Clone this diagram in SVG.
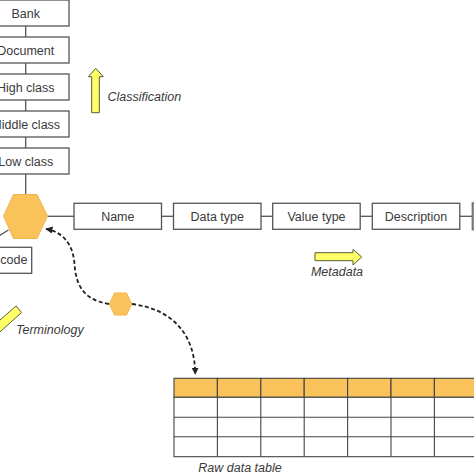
<svg xmlns="http://www.w3.org/2000/svg" width="474" height="474" viewBox="0 0 474 474">
<defs>
<style>
.box{fill:#fff;stroke:#555;stroke-width:1.3}
.t{font-family:"Liberation Sans",Arial,sans-serif;font-size:12.5px;fill:#3a3a3a;text-anchor:middle}
.it{font-family:"Liberation Sans",Arial,sans-serif;font-size:12.5px;fill:#3a3a3a;font-style:italic}
.ln{stroke:#555;stroke-width:1.3;fill:none}
.dash{stroke:#222;stroke-width:1.8;fill:none;stroke-dasharray:4,2.5}
.hex{fill:#F9C25A;stroke:#EFB54A;stroke-width:1}
.yarr{fill:#FFFF66;stroke:#5a5a3a;stroke-width:1}
.cell{fill:#fff;stroke:#444;stroke-width:1.1}
.hcell{fill:#F9C25A;stroke:#444;stroke-width:1.1}
</style>
<marker id="ah" viewBox="0 0 10 10" refX="9" refY="5" markerWidth="4" markerHeight="4" orient="auto">
<path d="M0,0 L10,5 L0,10 Z" fill="#222"/>
</marker>
</defs>
<rect width="474" height="474" fill="#fff"/>

<g id="connectors">
<line class="ln" x1="25.7" y1="26" x2="25.7" y2="37"/>
<line class="ln" x1="25.7" y1="63" x2="25.7" y2="74"/>
<line class="ln" x1="25.7" y1="100" x2="25.7" y2="111"/>
<line class="ln" x1="25.7" y1="137" x2="25.7" y2="148"/>
<line class="ln" x1="25.7" y1="174" x2="25.7" y2="195"/>
<line class="ln" x1="47.5" y1="216.3" x2="74" y2="216.3"/>
<line class="ln" x1="161.5" y1="216.3" x2="173.5" y2="216.3"/>
<line class="ln" x1="261" y1="216.3" x2="272.7" y2="216.3"/>
<line class="ln" x1="360.3" y1="216.3" x2="372.3" y2="216.3"/>
<line class="ln" x1="459.5" y1="216.3" x2="472.7" y2="216.3"/>
<line class="ln" x1="8.5" y1="230" x2="-2" y2="236.5"/>
<path class="dash" d="M109,304 C84,300 76,286 74.5,264 C73,243 62,232 46,228.8" marker-end="url(#ah)"/>
<path class="dash" d="M132,304 C172,309 195,334 195.2,374" marker-end="url(#ah)"/>
</g>

<g id="bank"><rect class="box" x="-18" y="0" width="87" height="26"/><text class="t" x="25.7" y="17.5">Bank</text></g>
<g id="document"><rect class="box" x="-18" y="37" width="87" height="26"/><text class="t" x="25.7" y="54.5">Document</text></g>
<g id="high-class"><rect class="box" x="-18" y="74" width="87" height="26"/><text class="t" x="25.7" y="91.5">High class</text></g>
<g id="middle-class"><rect class="box" x="-18" y="111" width="87" height="26"/><text class="t" x="25.7" y="128.5">Middle class</text></g>
<g id="low-class"><rect class="box" x="-18" y="148" width="87" height="26"/><text class="t" x="25.7" y="165.5">Low class</text></g>

<g id="hexagon-main"><polygon class="hex" points="3.5,216 13.5,194.5 37,194.5 47.5,216 37,238.5 13.5,238.5"/></g>
<g id="hexagon-small"><polygon class="hex" points="109.3,304 114.5,293 126.5,293 131.7,304 126.5,315 114.5,315"/></g>

<g id="code"><rect class="box" x="-56" y="247.3" width="87.7" height="26"/><text class="t" x="27.4" y="264.3" style="text-anchor:end">code</text></g>

<g id="name"><rect class="box" x="74" y="203.3" width="87.5" height="26"/><text class="t" x="117.8" y="221">Name</text></g>
<g id="data-type"><rect class="box" x="173.5" y="203.3" width="87.5" height="26"/><text class="t" x="217.2" y="221">Data type</text></g>
<g id="value-type"><rect class="box" x="272.7" y="203.3" width="87.5" height="26"/><text class="t" x="316.5" y="221">Value type</text></g>
<g id="description"><rect class="box" x="372.3" y="203.3" width="87.5" height="26"/><text class="t" x="416" y="221">Description</text></g>
<g id="next-box"><rect class="box" x="472.7" y="203.3" width="30" height="26" style="stroke-width:2.2;stroke:#777"/></g>

<g id="classification">
<path class="yarr" d="M91.7,112.7 L91.7,76.7 L88.3,76.7 L95.7,68.3 L103.3,76.7 L99.3,76.7 L99.3,112.7 Z"/>
<text class="it" x="107.5" y="100.5">Classification</text>
</g>
<g id="metadata">
<path class="yarr" d="M315,252.7 L353,252.7 L353,249.3 L361.7,257 L353,265 L353,260.7 L315,260.7 Z"/>
<text class="it" x="337" y="275.5" style="text-anchor:middle">Metadata</text>
</g>
<g id="terminology">
<path class="yarr" d="M-16,334 L16,306 L21.5,312.5 L-10,341 Z"/>
<text class="it" x="16" y="334">Terminology</text>
</g>

<g id="raw-data-table">
<rect class="hcell" x="174" y="378.3" width="43.4" height="19"/>
<rect class="hcell" x="217.4" y="378.3" width="43.4" height="19"/>
<rect class="hcell" x="260.8" y="378.3" width="43.4" height="19"/>
<rect class="hcell" x="304.2" y="378.3" width="43.4" height="19"/>
<rect class="hcell" x="347.6" y="378.3" width="43.4" height="19"/>
<rect class="hcell" x="391" y="378.3" width="43.4" height="19"/>
<rect class="hcell" x="434.4" y="378.3" width="43.4" height="19"/>
<rect class="cell" x="174" y="397.3" width="304" height="59.4"/>
<line class="cell" x1="174" y1="417.3" x2="478" y2="417.3"/>
<line class="cell" x1="174" y1="436.8" x2="478" y2="436.8"/>
<line class="cell" x1="217.4" y1="397.3" x2="217.4" y2="456.7"/>
<line class="cell" x1="260.8" y1="397.3" x2="260.8" y2="456.7"/>
<line class="cell" x1="304.2" y1="397.3" x2="304.2" y2="456.7"/>
<line class="cell" x1="347.6" y1="397.3" x2="347.6" y2="456.7"/>
<line class="cell" x1="391" y1="397.3" x2="391" y2="456.7"/>
<line class="cell" x1="434.4" y1="397.3" x2="434.4" y2="456.7"/>
<text class="it" x="198.3" y="471.7">Raw data table</text>
</g>
</svg>
